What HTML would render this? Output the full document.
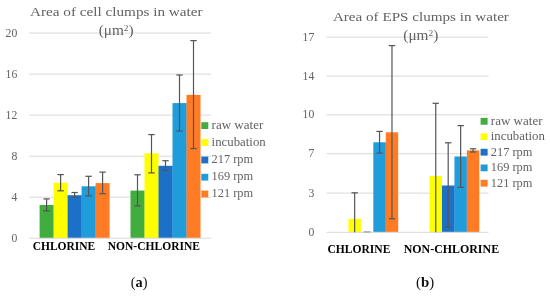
<!DOCTYPE html>
<html lang="en">
<head>
<meta charset="utf-8">
<title>Area of clumps in water</title>
<style>
html,body{margin:0;padding:0;background:#fff;}
body{width:550px;height:296px;overflow:hidden;}
svg{display:block;font-family:"Liberation Serif","DejaVu Serif",serif;}
</style>
</head>
<body>
<svg width="550" height="296" viewBox="0 0 550 296">
<rect width="550" height="296" fill="#ffffff"/>
<line x1="29.20" y1="33.10" x2="211.00" y2="33.10" stroke="#d9d9d9" stroke-width="1.0"/>
<line x1="29.20" y1="74.10" x2="211.00" y2="74.10" stroke="#d9d9d9" stroke-width="1.0"/>
<line x1="29.20" y1="115.10" x2="211.00" y2="115.10" stroke="#d9d9d9" stroke-width="1.0"/>
<line x1="29.20" y1="156.20" x2="211.00" y2="156.20" stroke="#d9d9d9" stroke-width="1.0"/>
<line x1="29.20" y1="197.20" x2="211.00" y2="197.20" stroke="#d9d9d9" stroke-width="1.0"/>
<rect x="39.60" y="205.00" width="14.00" height="33.20" fill="#41ad3f"/>
<rect x="53.50" y="205.00" width="0.50" height="33.20" fill="#41ad3f"/>
<rect x="53.60" y="182.70" width="14.00" height="55.50" fill="#ffff00"/>
<rect x="67.50" y="195.20" width="0.50" height="43.00" fill="#ffff00"/>
<rect x="67.60" y="195.20" width="14.00" height="43.00" fill="#1c70c8"/>
<rect x="81.50" y="195.20" width="0.50" height="43.00" fill="#1c70c8"/>
<rect x="81.60" y="186.30" width="14.00" height="51.90" fill="#1f9cd9"/>
<rect x="95.50" y="186.30" width="0.50" height="51.90" fill="#1f9cd9"/>
<rect x="95.60" y="183.10" width="14.00" height="55.10" fill="#ff7b24"/>
<rect x="130.50" y="190.60" width="14.00" height="47.60" fill="#41ad3f"/>
<rect x="144.40" y="190.60" width="0.50" height="47.60" fill="#41ad3f"/>
<rect x="144.50" y="153.30" width="14.00" height="84.90" fill="#ffff00"/>
<rect x="158.40" y="165.80" width="0.50" height="72.40" fill="#ffff00"/>
<rect x="158.50" y="165.80" width="14.00" height="72.40" fill="#1c70c8"/>
<rect x="172.40" y="165.80" width="0.50" height="72.40" fill="#1c70c8"/>
<rect x="172.50" y="103.10" width="14.00" height="135.10" fill="#1f9cd9"/>
<rect x="186.40" y="103.10" width="0.50" height="135.10" fill="#1f9cd9"/>
<rect x="186.50" y="94.90" width="14.00" height="143.30" fill="#ff7b24"/>
<line x1="29.20" y1="238.20" x2="211.00" y2="238.20" stroke="#d9d9d9" stroke-width="1.0"/>
<line x1="46.60" y1="198.90" x2="46.60" y2="210.90" stroke="#555555" stroke-width="1.2"/>
<line x1="43.40" y1="198.90" x2="49.80" y2="198.90" stroke="#555555" stroke-width="1.2"/>
<line x1="43.40" y1="210.90" x2="49.80" y2="210.90" stroke="#555555" stroke-width="1.2"/>
<line x1="60.60" y1="174.60" x2="60.60" y2="190.80" stroke="#555555" stroke-width="1.2"/>
<line x1="57.40" y1="174.60" x2="63.80" y2="174.60" stroke="#555555" stroke-width="1.2"/>
<line x1="57.40" y1="190.80" x2="63.80" y2="190.80" stroke="#555555" stroke-width="1.2"/>
<line x1="74.60" y1="192.50" x2="74.60" y2="197.20" stroke="#555555" stroke-width="1.2"/>
<line x1="71.40" y1="192.50" x2="77.80" y2="192.50" stroke="#555555" stroke-width="1.2"/>
<line x1="71.40" y1="197.20" x2="77.80" y2="197.20" stroke="#555555" stroke-width="1.2"/>
<line x1="88.60" y1="176.30" x2="88.60" y2="195.90" stroke="#555555" stroke-width="1.2"/>
<line x1="85.40" y1="176.30" x2="91.80" y2="176.30" stroke="#555555" stroke-width="1.2"/>
<line x1="85.40" y1="195.90" x2="91.80" y2="195.90" stroke="#555555" stroke-width="1.2"/>
<line x1="102.60" y1="172.10" x2="102.60" y2="193.70" stroke="#555555" stroke-width="1.2"/>
<line x1="99.40" y1="172.10" x2="105.80" y2="172.10" stroke="#555555" stroke-width="1.2"/>
<line x1="99.40" y1="193.70" x2="105.80" y2="193.70" stroke="#555555" stroke-width="1.2"/>
<line x1="137.50" y1="174.80" x2="137.50" y2="205.90" stroke="#555555" stroke-width="1.2"/>
<line x1="134.30" y1="174.80" x2="140.70" y2="174.80" stroke="#555555" stroke-width="1.2"/>
<line x1="134.30" y1="205.90" x2="140.70" y2="205.90" stroke="#555555" stroke-width="1.2"/>
<line x1="151.50" y1="134.60" x2="151.50" y2="172.90" stroke="#555555" stroke-width="1.2"/>
<line x1="148.30" y1="134.60" x2="154.70" y2="134.60" stroke="#555555" stroke-width="1.2"/>
<line x1="148.30" y1="172.90" x2="154.70" y2="172.90" stroke="#555555" stroke-width="1.2"/>
<line x1="165.50" y1="160.70" x2="165.50" y2="170.50" stroke="#555555" stroke-width="1.2"/>
<line x1="162.30" y1="160.70" x2="168.70" y2="160.70" stroke="#555555" stroke-width="1.2"/>
<line x1="162.30" y1="170.50" x2="168.70" y2="170.50" stroke="#555555" stroke-width="1.2"/>
<line x1="179.50" y1="75.00" x2="179.50" y2="131.10" stroke="#555555" stroke-width="1.2"/>
<line x1="176.30" y1="75.00" x2="182.70" y2="75.00" stroke="#555555" stroke-width="1.2"/>
<line x1="176.30" y1="131.10" x2="182.70" y2="131.10" stroke="#555555" stroke-width="1.2"/>
<line x1="193.50" y1="40.60" x2="193.50" y2="148.60" stroke="#555555" stroke-width="1.2"/>
<line x1="190.30" y1="40.60" x2="196.70" y2="40.60" stroke="#555555" stroke-width="1.2"/>
<line x1="190.30" y1="148.60" x2="196.70" y2="148.60" stroke="#555555" stroke-width="1.2"/>
<text x="17.30" y="36.60" font-size="11.7" fill="#636363" text-anchor="end" font-weight="normal">20</text>
<text x="17.30" y="77.60" font-size="11.7" fill="#636363" text-anchor="end" font-weight="normal">16</text>
<text x="17.30" y="118.60" font-size="11.7" fill="#636363" text-anchor="end" font-weight="normal">12</text>
<text x="17.30" y="159.70" font-size="11.7" fill="#636363" text-anchor="end" font-weight="normal">8</text>
<text x="17.30" y="200.70" font-size="11.7" fill="#636363" text-anchor="end" font-weight="normal">4</text>
<text x="17.30" y="241.70" font-size="11.7" fill="#636363" text-anchor="end" font-weight="normal">0</text>
<text x="116.30" y="15.50" font-size="13.4" fill="#636363" text-anchor="middle" font-weight="normal" textLength="172.7" lengthAdjust="spacingAndGlyphs">Area of cell clumps in water</text>
<text x="116.2" y="34.5" font-size="14.6" fill="#636363" text-anchor="middle" textLength="35" lengthAdjust="spacingAndGlyphs">(μm<tspan font-size="9" dy="-3.9">2</tspan><tspan dy="3.9">)</tspan></text>
<rect x="201.30" y="122.20" width="7.00" height="6.80" fill="#41ad3f"/>
<text x="211.60" y="128.80" font-size="12" fill="#636363" text-anchor="start" font-weight="normal" textLength="51.7" lengthAdjust="spacingAndGlyphs">raw water</text>
<rect x="201.30" y="139.10" width="7.00" height="6.80" fill="#ffff00"/>
<text x="211.60" y="145.70" font-size="12" fill="#636363" text-anchor="start" font-weight="normal" textLength="54.1" lengthAdjust="spacingAndGlyphs">incubation</text>
<rect x="201.30" y="156.60" width="7.00" height="6.80" fill="#1c70c8"/>
<text x="211.60" y="163.20" font-size="12" fill="#636363" text-anchor="start" font-weight="normal" textLength="41.6" lengthAdjust="spacingAndGlyphs">217 rpm</text>
<rect x="201.30" y="173.80" width="7.00" height="6.80" fill="#1f9cd9"/>
<text x="211.60" y="180.40" font-size="12" fill="#636363" text-anchor="start" font-weight="normal" textLength="41.6" lengthAdjust="spacingAndGlyphs">169 rpm</text>
<rect x="201.30" y="190.60" width="7.00" height="6.80" fill="#ff7b24"/>
<text x="211.60" y="197.20" font-size="12" fill="#636363" text-anchor="start" font-weight="normal" textLength="41.6" lengthAdjust="spacingAndGlyphs">121 rpm</text>
<text x="32.70" y="250.10" font-size="11.5" fill="#000" text-anchor="start" font-weight="bold" textLength="62.6" lengthAdjust="spacingAndGlyphs">CHLORINE</text>
<text x="107.70" y="250.10" font-size="11.5" fill="#000" text-anchor="start" font-weight="bold" textLength="92.3" lengthAdjust="spacingAndGlyphs">NON-CHLORINE</text>
<text x="139.1" y="287.1" font-size="14.5" fill="#111" text-anchor="middle" textLength="16.8" lengthAdjust="spacingAndGlyphs">(<tspan font-weight="bold">a</tspan>)</text>
<line x1="326.50" y1="37.10" x2="488.60" y2="37.10" stroke="#d9d9d9" stroke-width="1.0"/>
<line x1="326.50" y1="76.10" x2="488.60" y2="76.10" stroke="#d9d9d9" stroke-width="1.0"/>
<line x1="326.50" y1="114.80" x2="488.60" y2="114.80" stroke="#d9d9d9" stroke-width="1.0"/>
<line x1="326.50" y1="153.70" x2="488.60" y2="153.70" stroke="#d9d9d9" stroke-width="1.0"/>
<line x1="326.50" y1="193.10" x2="488.60" y2="193.10" stroke="#d9d9d9" stroke-width="1.0"/>
<rect x="348.44" y="218.90" width="12.44" height="13.40" fill="#ffff00"/>
<rect x="360.78" y="232.10" width="0.50" height="0.20" fill="#ffff00"/>
<rect x="360.88" y="232.10" width="12.44" height="0.20" fill="#1c70c8"/>
<rect x="373.22" y="232.10" width="0.50" height="0.20" fill="#1c70c8"/>
<rect x="373.32" y="142.30" width="12.44" height="90.00" fill="#1f9cd9"/>
<rect x="385.66" y="142.30" width="0.50" height="90.00" fill="#1f9cd9"/>
<rect x="385.76" y="132.30" width="12.44" height="100.00" fill="#ff7b24"/>
<rect x="429.54" y="176.00" width="12.44" height="56.30" fill="#ffff00"/>
<rect x="441.88" y="185.50" width="0.50" height="46.80" fill="#ffff00"/>
<rect x="441.98" y="185.50" width="12.44" height="46.80" fill="#1c70c8"/>
<rect x="454.32" y="185.50" width="0.50" height="46.80" fill="#1c70c8"/>
<rect x="454.42" y="156.50" width="12.44" height="75.80" fill="#1f9cd9"/>
<rect x="466.76" y="156.50" width="0.50" height="75.80" fill="#1f9cd9"/>
<rect x="466.86" y="150.40" width="12.44" height="81.90" fill="#ff7b24"/>
<line x1="326.50" y1="232.30" x2="488.60" y2="232.30" stroke="#d9d9d9" stroke-width="1.0"/>
<line x1="354.66" y1="192.80" x2="354.66" y2="232.30" stroke="#555555" stroke-width="1.2"/>
<line x1="351.46" y1="192.80" x2="357.86" y2="192.80" stroke="#555555" stroke-width="1.2"/>
<line x1="363.60" y1="231.90" x2="370.60" y2="231.90" stroke="#808080" stroke-width="0.9"/>
<line x1="379.54" y1="131.40" x2="379.54" y2="153.10" stroke="#555555" stroke-width="1.2"/>
<line x1="376.34" y1="131.40" x2="382.74" y2="131.40" stroke="#555555" stroke-width="1.2"/>
<line x1="376.34" y1="153.10" x2="382.74" y2="153.10" stroke="#555555" stroke-width="1.2"/>
<line x1="391.98" y1="45.60" x2="391.98" y2="218.80" stroke="#555555" stroke-width="1.2"/>
<line x1="388.78" y1="45.60" x2="395.18" y2="45.60" stroke="#555555" stroke-width="1.2"/>
<line x1="388.78" y1="218.80" x2="395.18" y2="218.80" stroke="#555555" stroke-width="1.2"/>
<line x1="435.76" y1="103.30" x2="435.76" y2="232.30" stroke="#555555" stroke-width="1.2"/>
<line x1="432.56" y1="103.30" x2="438.96" y2="103.30" stroke="#555555" stroke-width="1.2"/>
<line x1="448.20" y1="142.80" x2="448.20" y2="227.20" stroke="#555555" stroke-width="1.2"/>
<line x1="445.00" y1="142.80" x2="451.40" y2="142.80" stroke="#555555" stroke-width="1.2"/>
<line x1="445.00" y1="227.20" x2="451.40" y2="227.20" stroke="#555555" stroke-width="1.2"/>
<line x1="460.64" y1="125.60" x2="460.64" y2="187.30" stroke="#555555" stroke-width="1.2"/>
<line x1="457.44" y1="125.60" x2="463.84" y2="125.60" stroke="#555555" stroke-width="1.2"/>
<line x1="457.44" y1="187.30" x2="463.84" y2="187.30" stroke="#555555" stroke-width="1.2"/>
<line x1="473.08" y1="148.80" x2="473.08" y2="152.00" stroke="#555555" stroke-width="1.2"/>
<line x1="469.88" y1="148.80" x2="476.28" y2="148.80" stroke="#555555" stroke-width="1.2"/>
<line x1="469.88" y1="152.00" x2="476.28" y2="152.00" stroke="#555555" stroke-width="1.2"/>
<text x="314.30" y="40.60" font-size="11.7" fill="#636363" text-anchor="end" font-weight="normal">17</text>
<text x="314.30" y="79.60" font-size="11.7" fill="#636363" text-anchor="end" font-weight="normal">14</text>
<text x="314.30" y="118.30" font-size="11.7" fill="#636363" text-anchor="end" font-weight="normal">10</text>
<text x="314.30" y="157.20" font-size="11.7" fill="#636363" text-anchor="end" font-weight="normal">7</text>
<text x="314.30" y="196.60" font-size="11.7" fill="#636363" text-anchor="end" font-weight="normal">3</text>
<text x="314.30" y="235.80" font-size="11.7" fill="#636363" text-anchor="end" font-weight="normal">0</text>
<text x="420.90" y="20.90" font-size="13.4" fill="#636363" text-anchor="middle" font-weight="normal" textLength="176.0" lengthAdjust="spacingAndGlyphs">Area of EPS clumps in water</text>
<text x="420.8" y="39.5" font-size="14.6" fill="#636363" text-anchor="middle" textLength="35" lengthAdjust="spacingAndGlyphs">(μm<tspan font-size="9" dy="-3.9">2</tspan><tspan dy="3.9">)</tspan></text>
<rect x="480.60" y="117.90" width="7.00" height="6.80" fill="#41ad3f"/>
<text x="490.80" y="124.60" font-size="12" fill="#636363" text-anchor="start" font-weight="normal" textLength="51.7" lengthAdjust="spacingAndGlyphs">raw water</text>
<rect x="480.60" y="133.30" width="7.00" height="6.80" fill="#ffff00"/>
<text x="490.80" y="140.00" font-size="12" fill="#636363" text-anchor="start" font-weight="normal" textLength="54.1" lengthAdjust="spacingAndGlyphs">incubation</text>
<rect x="480.60" y="148.80" width="7.00" height="6.80" fill="#1c70c8"/>
<text x="490.80" y="155.50" font-size="12" fill="#636363" text-anchor="start" font-weight="normal" textLength="41.6" lengthAdjust="spacingAndGlyphs">217 rpm</text>
<rect x="480.60" y="164.50" width="7.00" height="6.80" fill="#1f9cd9"/>
<text x="490.80" y="171.20" font-size="12" fill="#636363" text-anchor="start" font-weight="normal" textLength="41.6" lengthAdjust="spacingAndGlyphs">169 rpm</text>
<rect x="480.60" y="179.80" width="7.00" height="6.80" fill="#ff7b24"/>
<text x="490.80" y="186.50" font-size="12" fill="#636363" text-anchor="start" font-weight="normal" textLength="41.6" lengthAdjust="spacingAndGlyphs">121 rpm</text>
<text x="327.40" y="252.80" font-size="12" fill="#000" text-anchor="start" font-weight="bold" textLength="63.0" lengthAdjust="spacingAndGlyphs">CHLORINE</text>
<text x="403.70" y="252.90" font-size="12" fill="#000" text-anchor="start" font-weight="bold" textLength="95.4" lengthAdjust="spacingAndGlyphs">NON-CHLORINE</text>
<text x="425.2" y="287.2" font-size="14.5" fill="#111" text-anchor="middle" textLength="18.2" lengthAdjust="spacingAndGlyphs">(<tspan font-weight="bold">b</tspan>)</text>
</svg>
</body>
</html>
